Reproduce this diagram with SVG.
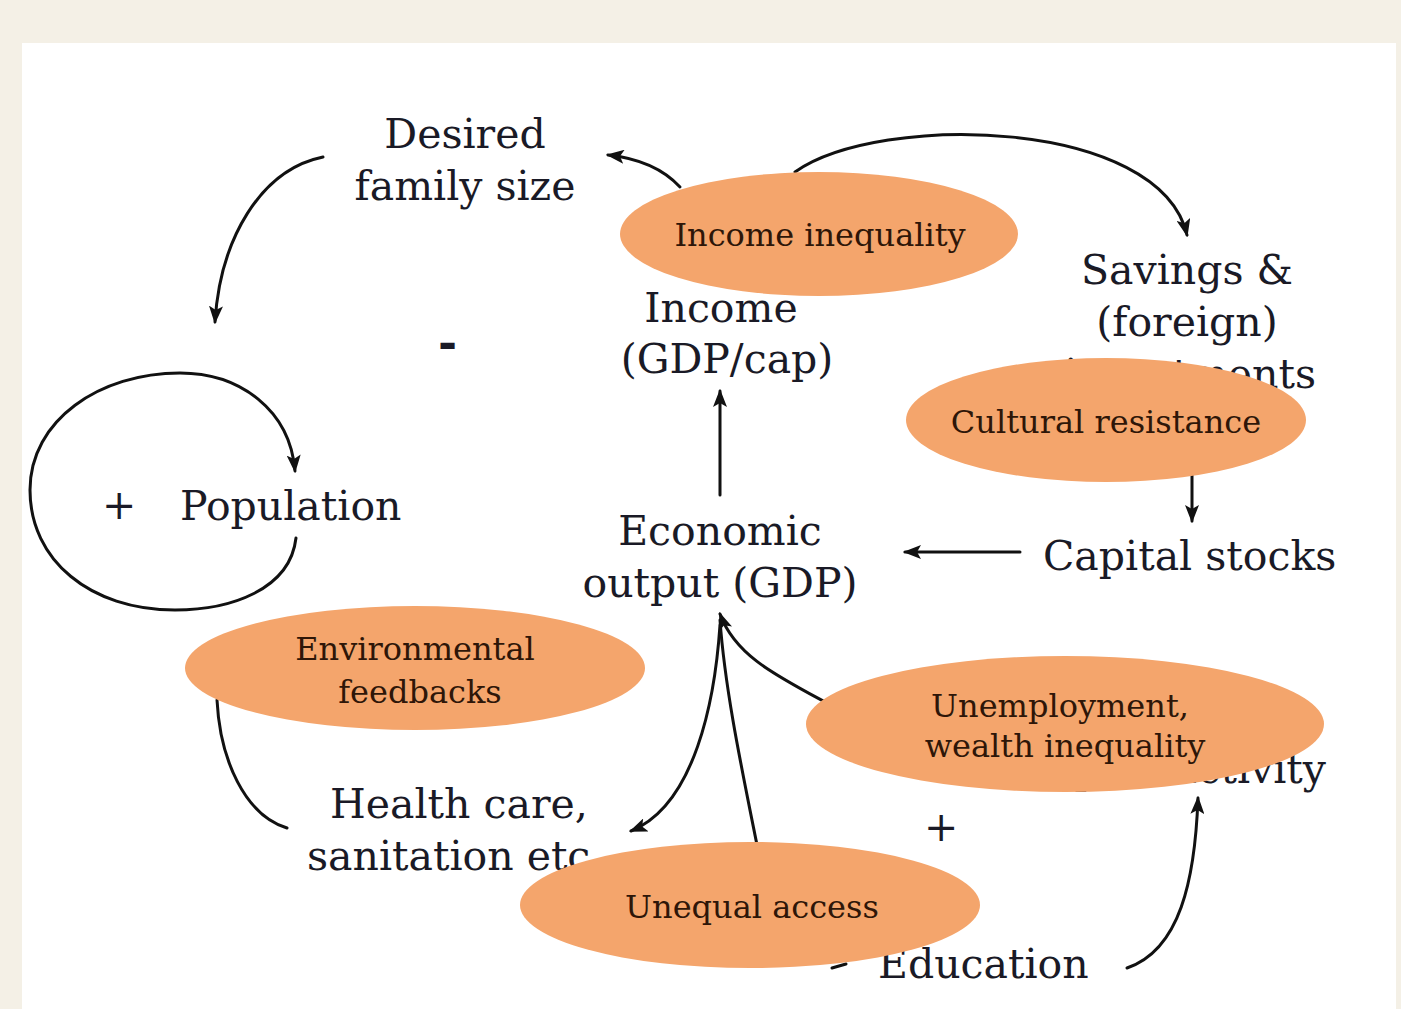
<svg xmlns="http://www.w3.org/2000/svg" width="1401" height="1009" viewBox="0 0 1401 1009">
<style>
.t{font-family:"DejaVu Serif","Liberation Serif",serif;font-size:41px;fill:#1a1a26}
.m{text-anchor:middle}
.e{fill:#f4a56c}
.et{font-family:"DejaVu Serif","Liberation Serif",serif;font-size:32px;fill:#2e1608;text-anchor:middle}
.c{fill:none;stroke:#111;stroke-width:3;stroke-linecap:round}
</style>
<defs>
<marker id="ah" viewBox="0 0 18 14" refX="16" refY="7" markerWidth="18" markerHeight="14" markerUnits="userSpaceOnUse" orient="auto">
<path d="M0,0 L18,7 L0,14 L4,7 z" fill="#111"/>
</marker>
</defs>
<rect width="1401" height="1009" fill="#f4f0e6"/>
<rect x="22" y="43" width="1374" height="966" fill="#ffffff"/>
<g id="connectors">
<path class="c" d="M323,157 C260,170 220,240 215,322" marker-end="url(#ah)"/>
<path class="c" d="M680,187 Q655,160 608,155" marker-end="url(#ah)"/>
<path class="c" d="M795,172 C880,112 1160,118 1187,235" marker-end="url(#ah)"/>
<path class="c" d="M720,495 L720,391" marker-end="url(#ah)"/>
<path class="c" d="M296,538 C290,590 230,610 175,610 C90,610 30,560 30,490 C30,420 100,373 180,373 C240,373 290,410 295,471" marker-end="url(#ah)"/>
<path class="c" d="M1192,470 L1192,521" marker-end="url(#ah)"/>
<path class="c" d="M1020,552 L905,552" marker-end="url(#ah)"/>
<path class="c" d="M825,702 C775,675 735,655 720,614" marker-end="url(#ah)"/>
<path class="c" d="M758,850 C742,770 725,690 720,620"/>
<path class="c" d="M720,625 C715,700 695,805 631,831" marker-end="url(#ah)"/>
<path class="c" d="M217,700 C220,760 245,815 287,828"/>
<path class="c" d="M1127,968 C1180,950 1195,880 1198,798" marker-end="url(#ah)"/>
<path class="c" d="M832,968 L846,964"/>
</g>
<g id="desired-family-size"><text class="t m" x="465" y="148">Desired</text><text class="t m" x="465" y="200">family size</text></g>
<g id="income"><text class="t m" x="721" y="322">Income</text><text class="t m" x="727" y="373">(GDP/cap)</text></g>
<g id="savings"><text class="t m" x="1187" y="284">Savings &amp;</text><text class="t m" x="1187" y="336">(foreign)</text><text class="t" x="1316" y="388" text-anchor="end">investments</text></g>
<g id="population"><text class="t" x="102" y="519">+</text><text class="t" x="180" y="520">Population</text></g>
<g id="minus-sign"><text class="t" x="438" y="358" style="font-weight:bold;font-size:46px">-</text></g>
<g id="economic-output"><text class="t m" x="720" y="545">Economic</text><text class="t m" x="720" y="597">output (GDP)</text></g>
<g id="capital-stocks"><text class="t" x="1043" y="570">Capital stocks</text></g>
<g id="health-care"><text class="t" x="330" y="818">Health care,</text><text class="t" x="307" y="870">sanitation etc</text></g>
<g id="labor-productivity"><text class="t" x="1326" y="783" text-anchor="end">Labor productivity</text></g>
<g id="plus-sign"><text class="t" x="924" y="841">+</text></g>
<g id="education"><text class="t" x="878" y="978">Education</text></g>
<g id="income-inequality"><ellipse class="e" cx="819" cy="234" rx="199" ry="62"/><text class="et" x="820" y="246">Income inequality</text></g>
<g id="cultural-resistance"><ellipse class="e" cx="1106" cy="420" rx="200" ry="62"/><text class="et" x="1106" y="433">Cultural resistance</text></g>
<g id="environmental-feedbacks"><ellipse class="e" cx="415" cy="668" rx="230" ry="62"/><text class="et" x="415" y="660">Environmental</text><text class="et" x="420" y="703">feedbacks</text></g>
<g id="unemployment"><ellipse class="e" cx="1065" cy="724" rx="259" ry="68"/><text class="et" x="1060" y="717">Unemployment,</text><text class="et" x="1065" y="757">wealth inequality</text></g>
<g id="unequal-access"><ellipse class="e" cx="750" cy="905" rx="230" ry="63"/><text class="et" x="752" y="918">Unequal access</text></g>
</svg>
